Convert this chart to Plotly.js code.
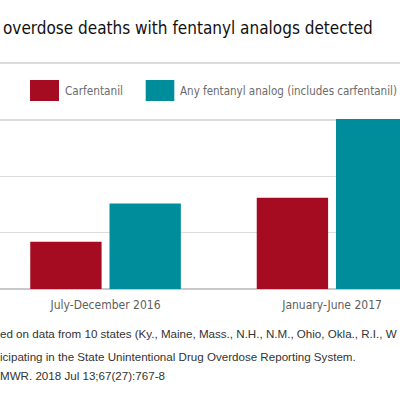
<!DOCTYPE html>
<html>
<head>
<meta charset="utf-8">
<script src="https://cdn.plot.ly/plotly-3.0.1.min.js"></script>
<style>html,body{margin:0;padding:0;background:#fff;}#chart{width:400px;height:400px;}</style>
</head>
<body>
<div id="chart"></div>
<script>
// ---- data ----
var categories = ["July-December 2016", "January-June 2017"];
var seriesNames = ["Carfentanil", "Any fentanyl analog (includes carfentanil)"];
var carfentanil = [4.2, 8.1];
var anyAnalog = [7.6, 15.1];
var titleText = "overdose deaths with fentanyl analogs detected";
var noteLines = [
  "ed on data from 10 states (Ky., Maine, Mass., N.H., N.M., Ohio, Okla., R.I., W",
  "icipating in the State Unintentional Drug Overdose Reporting System.",
  "MWR. 2018 Jul 13;67(27):767-8"
];

var colors = ["#a50c22", "#008d9b"];
var condensed = "'DejaVu Sans Condensed', 'Roboto', sans-serif";
var regular = "'Liberation Sans', Arial, sans-serif";

var traces = [
  {type: "bar", x: categories, y: carfentanil, name: seriesNames[0],
   marker: {color: colors[0], line: {width: 0}}, hoverinfo: "none"},
  {type: "bar", x: categories, y: anyAnalog, name: seriesNames[1],
   marker: {color: colors[1], line: {width: 0}}, hoverinfo: "none"}
];

// paper coordinate helpers (plot area: x 0..400px, y 117..289px)
function py(p) { return (289 - p) / 172; }
function px(p) { return p / 400; }

var layout = {
  width: 400, height: 400,
  margin: {l: 0, r: 0, t: 117, b: 111, pad: 0},
  paper_bgcolor: "#ffffff", plot_bgcolor: "#ffffff",
  showlegend: false,
  barmode: "group", bargap: 0.3, bargroupgap: 0.1,
  xaxis: {
    type: "category", range: [-0.466, 1.300], showgrid: false, zeroline: false,
    showline: false, ticks: "", ticklen: 0, ticklabelstandoff: 7,
    tickfont: {family: condensed, size: 12, color: "#5e5e5e"}
  },
  yaxis: {
    range: [0, 15.27], dtick: 5, showticklabels: false, ticks: "",
    showgrid: true, gridcolor: "#dcdcdc", gridwidth: 1.5,
    zeroline: true, zerolinecolor: "#c8c8c8", zerolinewidth: 2, showline: false
  },
  shapes: [
    {type: "line", xref: "paper", yref: "paper", x0: 0, x1: 1, y0: py(63), y1: py(63),
     line: {color: "#d0d0d0", width: 1.5}},
    {type: "rect", xref: "paper", yref: "paper", x0: px(30), x1: px(59), y0: py(101), y1: py(80),
     fillcolor: colors[0], line: {width: 0}},
    {type: "rect", xref: "paper", yref: "paper", x0: px(145.7), x1: px(174.3), y0: py(101), y1: py(80),
     fillcolor: colors[1], line: {width: 0}}
  ],
  annotations: [
    {xref: "paper", yref: "paper", x: px(1), y: py(28), xanchor: "left", yanchor: "middle",
     text: titleText, showarrow: false,
     font: {family: condensed, size: 17, color: "#111111"}},
    {xref: "paper", yref: "paper", x: px(63), y: py(91), xanchor: "left", yanchor: "middle",
     text: seriesNames[0], showarrow: false,
     font: {family: condensed, size: 11.7, color: "#6b6b6b"}},
    {xref: "paper", yref: "paper", x: px(178), y: py(91), xanchor: "left", yanchor: "middle",
     text: seriesNames[1], showarrow: false,
     font: {family: condensed, size: 11.5, color: "#6b6b6b"}},
    {xref: "paper", yref: "paper", x: px(-2), y: py(333), xanchor: "left", yanchor: "middle",
     text: noteLines[0], showarrow: false,
     font: {family: regular, size: 11.6, color: "#333333"}},
    {xref: "paper", yref: "paper", x: px(-2), y: py(356), xanchor: "left", yanchor: "middle",
     text: noteLines[1], showarrow: false,
     font: {family: regular, size: 11.6, color: "#333333"}},
    {xref: "paper", yref: "paper", x: px(-2), y: py(375), xanchor: "left", yanchor: "middle",
     text: noteLines[2], showarrow: false,
     font: {family: regular, size: 11.6, color: "#333333"}}
  ]
};

Plotly.newPlot("chart", traces, layout, {staticPlot: true, displayModeBar: false});
</script>
</body>
</html>
